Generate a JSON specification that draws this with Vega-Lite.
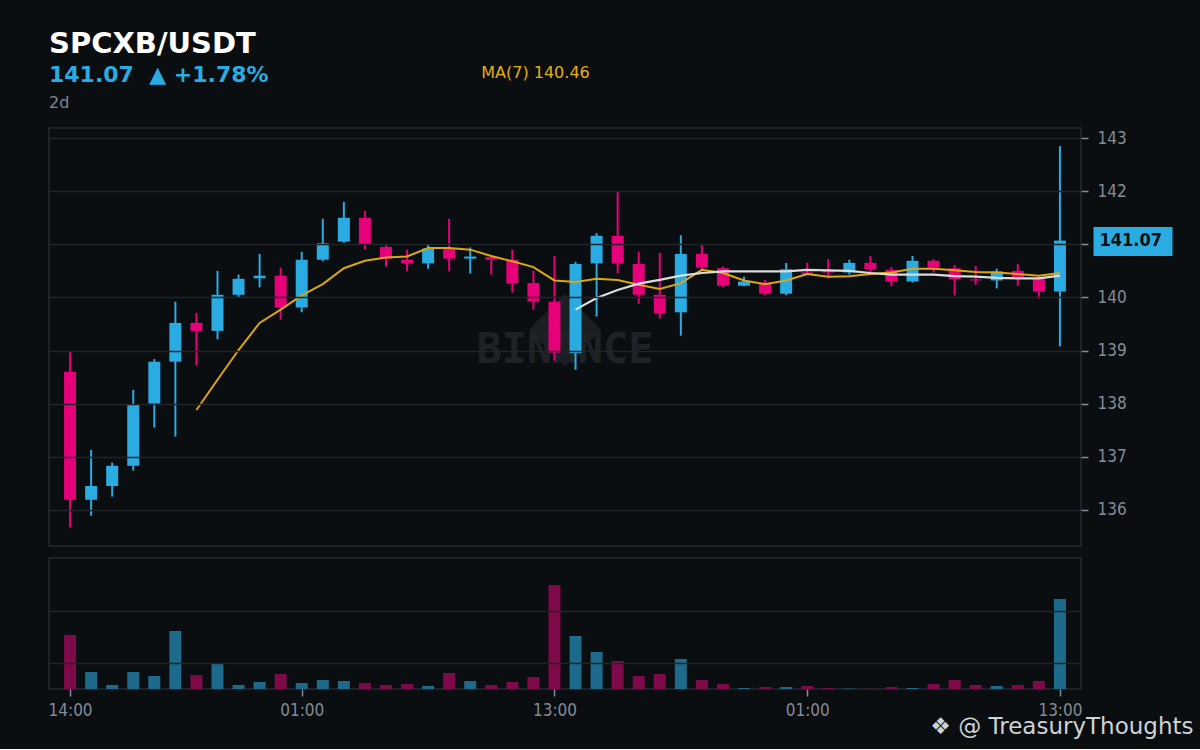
{
  "$schema": "https://vega.github.io/schema/vega-lite/v6.json",
  "background": "#0b0e11",
  "padding": {"left": 47, "top": 30, "right": 10, "bottom": 10},
  "title": {
    "text": "SPCXB/USDT",
    "subtitle": "141.07\u00a0\u00a0▲ +1.78%",
    "anchor": "start",
    "frame": "group",
    "font": "DejaVu Sans",
    "fontSize": 29,
    "fontWeight": "bold",
    "color": "#ffffff",
    "subtitleFont": "DejaVu Sans",
    "subtitleFontSize": 22,
    "subtitleFontWeight": "bold",
    "subtitleColor": "#2aabe2",
    "subtitlePadding": 6,
    "offset": -21
  },
  "datasets": {
    "candles": [
      {"t": "2025-06-01T14:00:00Z", "o": 138.60, "h": 138.98, "l": 135.67, "c": 136.19, "v": 54, "ma7": null, "ma25": null},
      {"t": "2025-06-01T15:00:00Z", "o": 136.19, "h": 137.13, "l": 135.89, "c": 136.45, "v": 17, "ma7": null, "ma25": null},
      {"t": "2025-06-01T16:00:00Z", "o": 136.45, "h": 136.89, "l": 136.25, "c": 136.83, "v": 4, "ma7": null, "ma25": null},
      {"t": "2025-06-01T17:00:00Z", "o": 136.83, "h": 138.26, "l": 136.74, "c": 137.99, "v": 17, "ma7": null, "ma25": null},
      {"t": "2025-06-01T18:00:00Z", "o": 138.00, "h": 138.84, "l": 137.55, "c": 138.79, "v": 13, "ma7": null, "ma25": null},
      {"t": "2025-06-01T19:00:00Z", "o": 138.79, "h": 139.92, "l": 137.38, "c": 139.52, "v": 58, "ma7": null, "ma25": null},
      {"t": "2025-06-01T20:00:00Z", "o": 139.52, "h": 139.71, "l": 138.72, "c": 139.37, "v": 14, "ma7": 137.88, "ma25": null},
      {"t": "2025-06-01T21:00:00Z", "o": 139.37, "h": 140.50, "l": 139.21, "c": 140.05, "v": 26, "ma7": 138.45, "ma25": null},
      {"t": "2025-06-01T22:00:00Z", "o": 140.05, "h": 140.43, "l": 140.00, "c": 140.35, "v": 4, "ma7": 139.01, "ma25": null},
      {"t": "2025-06-01T23:00:00Z", "o": 140.36, "h": 140.82, "l": 140.19, "c": 140.41, "v": 7, "ma7": 139.52, "ma25": null},
      {"t": "2025-06-02T00:00:00Z", "o": 140.41, "h": 140.56, "l": 139.58, "c": 139.81, "v": 15, "ma7": 139.77, "ma25": null},
      {"t": "2025-06-02T01:00:00Z", "o": 139.81, "h": 140.86, "l": 139.72, "c": 140.71, "v": 6, "ma7": 140.04, "ma25": null},
      {"t": "2025-06-02T02:00:00Z", "o": 140.71, "h": 141.48, "l": 140.68, "c": 141.02, "v": 9, "ma7": 140.25, "ma25": null},
      {"t": "2025-06-02T03:00:00Z", "o": 141.05, "h": 141.80, "l": 141.03, "c": 141.50, "v": 8, "ma7": 140.55, "ma25": null},
      {"t": "2025-06-02T04:00:00Z", "o": 141.50, "h": 141.63, "l": 140.90, "c": 140.99, "v": 6, "ma7": 140.69, "ma25": null},
      {"t": "2025-06-02T05:00:00Z", "o": 140.95, "h": 141.00, "l": 140.58, "c": 140.73, "v": 4, "ma7": 140.75, "ma25": null},
      {"t": "2025-06-02T06:00:00Z", "o": 140.71, "h": 140.90, "l": 140.49, "c": 140.64, "v": 5, "ma7": 140.77, "ma25": null},
      {"t": "2025-06-02T07:00:00Z", "o": 140.64, "h": 141.00, "l": 140.54, "c": 140.92, "v": 3, "ma7": 140.93, "ma25": null},
      {"t": "2025-06-02T08:00:00Z", "o": 140.92, "h": 141.48, "l": 140.49, "c": 140.73, "v": 16, "ma7": 140.93, "ma25": null},
      {"t": "2025-06-02T09:00:00Z", "o": 140.73, "h": 140.94, "l": 140.45, "c": 140.77, "v": 8, "ma7": 140.90, "ma25": null},
      {"t": "2025-06-02T10:00:00Z", "o": 140.76, "h": 140.77, "l": 140.43, "c": 140.71, "v": 4, "ma7": 140.78, "ma25": null},
      {"t": "2025-06-02T11:00:00Z", "o": 140.71, "h": 140.90, "l": 140.09, "c": 140.26, "v": 7, "ma7": 140.68, "ma25": null},
      {"t": "2025-06-02T12:00:00Z", "o": 140.27, "h": 140.50, "l": 139.77, "c": 139.92, "v": 12, "ma7": 140.57, "ma25": null},
      {"t": "2025-06-02T13:00:00Z", "o": 139.92, "h": 140.78, "l": 138.81, "c": 138.96, "v": 104, "ma7": 140.32, "ma25": null},
      {"t": "2025-06-02T14:00:00Z", "o": 138.95, "h": 140.67, "l": 138.64, "c": 140.63, "v": 53, "ma7": 140.29, "ma25": 139.77},
      {"t": "2025-06-02T15:00:00Z", "o": 140.64, "h": 141.21, "l": 139.64, "c": 141.16, "v": 37, "ma7": 140.35, "ma25": 139.99},
      {"t": "2025-06-02T16:00:00Z", "o": 141.16, "h": 142.00, "l": 140.45, "c": 140.64, "v": 28, "ma7": 140.33, "ma25": 140.14},
      {"t": "2025-06-02T17:00:00Z", "o": 140.63, "h": 140.86, "l": 139.88, "c": 140.05, "v": 13, "ma7": 140.24, "ma25": 140.26},
      {"t": "2025-06-02T18:00:00Z", "o": 140.05, "h": 140.84, "l": 139.60, "c": 139.70, "v": 15, "ma7": 140.16, "ma25": 140.33},
      {"t": "2025-06-02T19:00:00Z", "o": 139.72, "h": 141.17, "l": 139.28, "c": 140.82, "v": 30, "ma7": 140.27, "ma25": 140.41},
      {"t": "2025-06-02T20:00:00Z", "o": 140.82, "h": 141.00, "l": 140.49, "c": 140.56, "v": 9, "ma7": 140.52, "ma25": 140.46},
      {"t": "2025-06-02T21:00:00Z", "o": 140.55, "h": 140.58, "l": 140.19, "c": 140.22, "v": 5, "ma7": 140.46, "ma25": 140.49},
      {"t": "2025-06-02T22:00:00Z", "o": 140.22, "h": 140.39, "l": 140.21, "c": 140.30, "v": 1, "ma7": 140.32, "ma25": 140.49},
      {"t": "2025-06-02T23:00:00Z", "o": 140.28, "h": 140.33, "l": 140.04, "c": 140.07, "v": 2, "ma7": 140.25, "ma25": 140.49},
      {"t": "2025-06-03T00:00:00Z", "o": 140.07, "h": 140.65, "l": 140.04, "c": 140.53, "v": 2, "ma7": 140.32, "ma25": 140.49},
      {"t": "2025-06-03T01:00:00Z", "o": 140.47, "h": 140.65, "l": 140.43, "c": 140.44, "v": 3, "ma7": 140.44, "ma25": 140.52},
      {"t": "2025-06-03T02:00:00Z", "o": 140.51, "h": 140.72, "l": 140.36, "c": 140.47, "v": 1, "ma7": 140.39, "ma25": 140.51},
      {"t": "2025-06-03T03:00:00Z", "o": 140.47, "h": 140.71, "l": 140.43, "c": 140.65, "v": 0.4, "ma7": 140.40, "ma25": 140.50},
      {"t": "2025-06-03T04:00:00Z", "o": 140.65, "h": 140.78, "l": 140.43, "c": 140.53, "v": 0.2, "ma7": 140.44, "ma25": 140.46},
      {"t": "2025-06-03T05:00:00Z", "o": 140.52, "h": 140.57, "l": 140.21, "c": 140.30, "v": 2, "ma7": 140.47, "ma25": 140.43},
      {"t": "2025-06-03T06:00:00Z", "o": 140.30, "h": 140.78, "l": 140.28, "c": 140.69, "v": 1, "ma7": 140.54, "ma25": 140.43},
      {"t": "2025-06-03T07:00:00Z", "o": 140.69, "h": 140.72, "l": 140.47, "c": 140.56, "v": 5, "ma7": 140.54, "ma25": 140.43},
      {"t": "2025-06-03T08:00:00Z", "o": 140.55, "h": 140.61, "l": 140.04, "c": 140.34, "v": 9, "ma7": 140.51, "ma25": 140.40},
      {"t": "2025-06-03T09:00:00Z", "o": 140.34, "h": 140.59, "l": 140.24, "c": 140.32, "v": 4, "ma7": 140.48, "ma25": 140.39},
      {"t": "2025-06-03T10:00:00Z", "o": 140.32, "h": 140.54, "l": 140.17, "c": 140.49, "v": 3, "ma7": 140.47, "ma25": 140.37},
      {"t": "2025-06-03T11:00:00Z", "o": 140.50, "h": 140.63, "l": 140.22, "c": 140.36, "v": 4, "ma7": 140.44, "ma25": 140.36},
      {"t": "2025-06-03T12:00:00Z", "o": 140.36, "h": 140.40, "l": 139.98, "c": 140.11, "v": 8, "ma7": 140.41, "ma25": 140.36},
      {"t": "2025-06-03T13:00:00Z", "o": 140.11, "h": 142.85, "l": 139.08, "c": 141.07, "v": 90, "ma7": 140.46, "ma25": 140.41}
    ]
  },
  "spacing": 10,
  "vconcat": [
    {
      "title": {"text": "MA(7) 140.46", "anchor": "start", "dx": 433, "dy": -13, "fontSize": 16, "fontWeight": "normal", "color": "#e3ad14", "offset": 0},
      "vconcat": [
        {
          "title": {"text": "2d", "anchor": "start", "fontSize": 16, "fontWeight": "normal", "color": "#7f8791", "offset": 17},
          "width": 1032,
          "height": 418,
          "resolve": {"scale": {"y": "independent"}, "axis": {"y": "independent"}},
          "layer": [
            {
              "data": {"values": [{"mark": "BINANCE"}]},
              "mark": {"type": "point", "shape": "diamond", "filled": true, "size": 5300, "color": "#1b1e23", "opacity": 1},
              "encoding": {
                "x": {"datum": {"year": 2025, "month": 6, "date": 2, "hours": 13, "minutes": 30, "utc": true}, "type": "temporal", "scale": {"type": "utc", "padding": 0, "domain": [{"year": 2025, "month": 6, "date": 1, "hours": 13, "utc": true}, {"year": 2025, "month": 6, "date": 3, "hours": 14, "utc": true}]}, "axis": null},
                "y": {"datum": 139.39, "type": "quantitative", "scale": {"domain": [135.32, 143.19], "nice": false, "zero": false}, "axis": null}
              }
            },
            {
              "data": {"values": [{"mark": "BINANCE"}]},
              "mark": {"type": "text", "font": "DejaVu Sans Mono", "fontWeight": "bold", "fontSize": 42, "color": "#1e2227", "baseline": "middle", "align": "center"},
              "encoding": {
                "x": {"datum": {"year": 2025, "month": 6, "date": 2, "hours": 13, "minutes": 30, "utc": true}, "type": "temporal"},
                "y": {"datum": 139.01, "type": "quantitative", "scale": {"domain": [135.32, 143.19], "nice": false, "zero": false}, "axis": null},
                "text": {"field": "mark"}
              }
            },
            {
              "data": {"name": "candles"},
              "encoding": {
                "x": {
                  "field": "t",
                  "type": "temporal",
                  "scale": {"type": "utc", "padding": 0, "domain": [{"year": 2025, "month": 6, "date": 1, "hours": 13, "utc": true}, {"year": 2025, "month": 6, "date": 3, "hours": 14, "utc": true}]},
                  "axis": {
                    "title": null,
                    "labels": false,
                    "tickSize": 6,
                    "grid": false,
                    "values": [
                      {"year": 2025, "month": 6, "date": 1, "hours": 14, "utc": true},
                      {"year": 2025, "month": 6, "date": 2, "hours": 1, "utc": true},
                      {"year": 2025, "month": 6, "date": 2, "hours": 13, "utc": true},
                      {"year": 2025, "month": 6, "date": 3, "hours": 1, "utc": true},
                      {"year": 2025, "month": 6, "date": 3, "hours": 13, "utc": true}
                    ]
                  }
                }
              },
              "layer": [
                {
                  "mark": {"type": "rule", "strokeWidth": 2},
                  "encoding": {
                    "y": {
                      "field": "l",
                      "type": "quantitative",
                      "scale": {"domain": [135.32, 143.19], "nice": false, "zero": false},
                      "axis": {"orient": "right", "title": null, "values": [136, 137, 138, 139, 140, 141, 142, 143], "grid": true, "tickSize": 7, "labelPadding": 9, "zindex": 1}
                    },
                    "y2": {"field": "h"},
                    "color": {"condition": {"test": "datum.c >= datum.o", "value": "#2aabe2"}, "value": "#e6007a"}
                  }
                },
                {
                  "mark": {"type": "bar", "width": 12},
                  "encoding": {
                    "y": {"field": "o", "type": "quantitative", "title": null},
                    "y2": {"field": "c"},
                    "color": {"condition": {"test": "datum.c >= datum.o", "value": "#2aabe2"}, "value": "#e6007a"}
                  }
                },
                {
                  "mark": {"type": "line", "strokeWidth": 2, "color": "#dba614"},
                  "encoding": {"y": {"field": "ma7", "type": "quantitative", "title": null}}
                },
                {
                  "mark": {"type": "line", "strokeWidth": 2.2, "color": "#dcdcdc"},
                  "encoding": {"y": {"field": "ma25", "type": "quantitative", "title": null}}
                }
              ]
            },
            {
              "data": {"values": [{"last": 141.07}]},
              "mark": {"type": "rule", "opacity": 0},
              "encoding": {
                "y": {
                  "field": "last",
                  "type": "quantitative",
                  "scale": {"domain": [135.32, 143.19], "nice": false, "zero": false},
                  "axis": {
                    "orient": "right",
                    "title": null,
                    "offset": 12,
                    "values": [141.07],
                    "format": ".2f",
                    "grid": false,
                    "tickSize": 79,
                    "tickWidth": 29,
                    "tickColor": "#2aabe2",
                    "labelPadding": -73,
                    "labelAlign": "left",
                    "labelBaseline": "middle",
                    "labelFont": "DejaVu Sans Condensed, DejaVu Sans",
                    "labelFontWeight": "bold",
                    "labelFontSize": 18,
                    "labelColor": "#0b0e11",
                    "zindex": 2
                  }
                }
              }
            }
          ]
        }
      ]
    },
    {
      "width": 1032,
      "height": 131,
      "data": {"name": "candles"},
      "mark": {"type": "bar", "width": 12},
      "encoding": {
        "x": {
          "field": "t",
          "type": "temporal",
          "scale": {"type": "utc", "padding": 0, "domain": [{"year": 2025, "month": 6, "date": 1, "hours": 13, "utc": true}, {"year": 2025, "month": 6, "date": 3, "hours": 14, "utc": true}]},
          "axis": {
            "format": "%H:%M",
            "grid": false,
            "tickSize": 7,
            "labelPadding": 6,
            "values": [
              {"year": 2025, "month": 6, "date": 1, "hours": 14, "utc": true},
              {"year": 2025, "month": 6, "date": 2, "hours": 1, "utc": true},
              {"year": 2025, "month": 6, "date": 2, "hours": 13, "utc": true},
              {"year": 2025, "month": 6, "date": 3, "hours": 1, "utc": true},
              {"year": 2025, "month": 6, "date": 3, "hours": 13, "utc": true}
            ],
            "title": "❖ @ TreasuryThoughts",
            "titleX": 1144,
            "titleY": 44,
            "titleAlign": "right",
            "titleBaseline": "alphabetic",
            "titleFont": "DejaVu Sans",
            "titleFontSize": 23,
            "titleFontWeight": "normal",
            "titleColor": "#cfd2d6"
          }
        },
        "y": {
          "field": "v",
          "type": "quantitative",
          "scale": {"domain": [0, 131], "nice": false},
          "axis": {"orient": "right", "title": null, "values": [26, 78], "labels": false, "ticks": false, "grid": true, "zindex": 1}
        },
        "color": {"condition": {"test": "datum.c >= datum.o", "value": "#1d6a8b"}, "value": "#7e0a4a"}
      }
    }
  ],
  "config": {
    "font": "DejaVu Sans",
    "view": {"stroke": "#262a30", "strokeWidth": 1.5},
    "axis": {
      "domain": false,
      "gridColor": "#21252a",
      "gridWidth": 1.3,
      "labelFont": "DejaVu Sans Condensed, DejaVu Sans",
      "labelFontSize": 17,
      "labelColor": "#848c97",
      "tickColor": "#848c97",
      "tickWidth": 1.5
    }
  }
}
